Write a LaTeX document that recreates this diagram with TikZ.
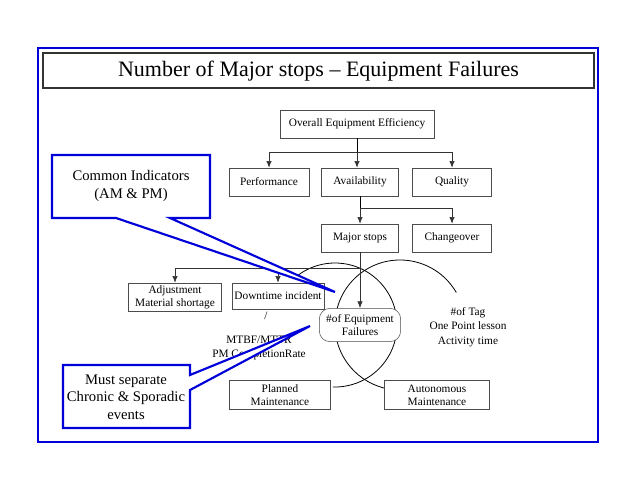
\documentclass[tikz,border=0pt]{standalone}
\usepackage{fontspec}
\setmainfont{Liberation Serif}
\usetikzlibrary{arrows.meta}
\tikzset{>=Latex,
  bx/.style={draw=black!70,fill=white,align=center,font=\fontsize{8.5}{10}\selectfont,inner sep=1pt},
  call/.style={draw=blue!85!black,line width=1.6pt,fill=white,line join=miter},
  ar/.style={->,black!80,line width=0.5pt,>={Latex[length=5pt,width=4pt]}}}
\begin{document}
\begin{tikzpicture}[x=0.75pt,y=-0.75pt]
\useasboundingbox (0,0) rectangle (638,493);
\draw[blue!85!black,line width=2pt] (38,48) rectangle (598,442);
\draw[line width=1.4pt,black!80] (43,53) rectangle (594,88);
\node (title) at (318.5,71) {\fontsize{16.5}{18}\selectfont Number of Major stops -- Equipment Failures};
% circles
\draw[line width=0.6pt] (335,325) ++(228:62) arc[start angle=228,end angle=452,radius=62];
\draw[line width=0.6pt] (400,325) ++(330:65) arc[start angle=330,end angle=70,radius=65];
% boxes
\node[bx,minimum width=115.5pt,minimum height=21pt] (oee) at (357,124) {Overall Equipment Efficiency};
\node[bx,minimum width=60pt,minimum height=21pt] (perf) at (269,182) {Performance};
\node[bx,minimum width=58pt,minimum height=21pt] (avail) at (360,182) {Availability};
\node[bx,minimum width=59pt,minimum height=21pt] (qual) at (452,182) {Quality};
\node[bx,minimum width=58pt,minimum height=21pt] (major) at (360,238) {Major stops};
\node[bx,minimum width=59pt,minimum height=21pt] (chg) at (452,238) {Changeover};
\node[bx,minimum width=70pt,minimum height=21pt] (adj) at (175,297) {Adjustment\\Material shortage};
\node[bx,minimum width=69pt,minimum height=19.5pt] (down) at (278,296) {Downtime incident};
\node[bx,rounded corners=8,minimum width=61pt,minimum height=25pt] (fail) at (360,325) {\#of Equipment\\Failures};
\node[bx,minimum width=76pt,minimum height=22pt] (plan) at (280,395) {Planned\\Maintenance};
\node[bx,minimum width=79pt,minimum height=22pt] (auto) at (437,395) {Autonomous\\Maintenance};
\node[align=center,font=\fontsize{8.5}{11}\selectfont] (tag) at (468,327) {\#of Tag\\One Point lesson\\Activity time};
\node[align=center,font=\fontsize{8.5}{11}\selectfont] (mtbf) at (259,348) {MTBF/MTTR\\PM CompletionRate};
\node[font=\fontsize{8.5}{10}\selectfont] (sl) at (266,316) {/};
% connectors
\coordinate (j1) at (357,152);
\draw[line width=0.5pt] (oee.south) -- (j1);
\draw[ar] (j1) -| (perf.north);
\draw[ar] (j1) -| (qual.north);
\draw[ar] (j1) -- (avail.north-|j1);
\coordinate (j2) at (360,208);
\draw[line width=0.5pt] (avail.south) -- (j2);
\draw[ar] (j2) -- (major.north);
\draw[ar] (j2) -| (chg.north);
\coordinate (j3) at (360,268);
\draw[ar] (major.south) -- (fail.north);
\draw[ar] (j3) -| (adj.north);
\draw[ar] (j3) -| (down.north);
% callouts
\draw[call] (52,155) -- (210,155) -- (210,218) -- (170,218) -- (335,292) -- (116,218) -- (52,218) -- cycle;
\node[align=center,font=\fontsize{11}{13}\selectfont] (ci) at (131,186) {Common Indicators\\(AM \& PM)};
\draw[call] (63,365) -- (190,365) -- (190,375) -- (310,326) -- (190,390) -- (190,428) -- (63,428) -- cycle;
\node[align=center,font=\fontsize{11}{13}\selectfont] (ms) at (126,397) {Must separate\\Chronic \& Sporadic\\events};
\end{tikzpicture}
\end{document}
